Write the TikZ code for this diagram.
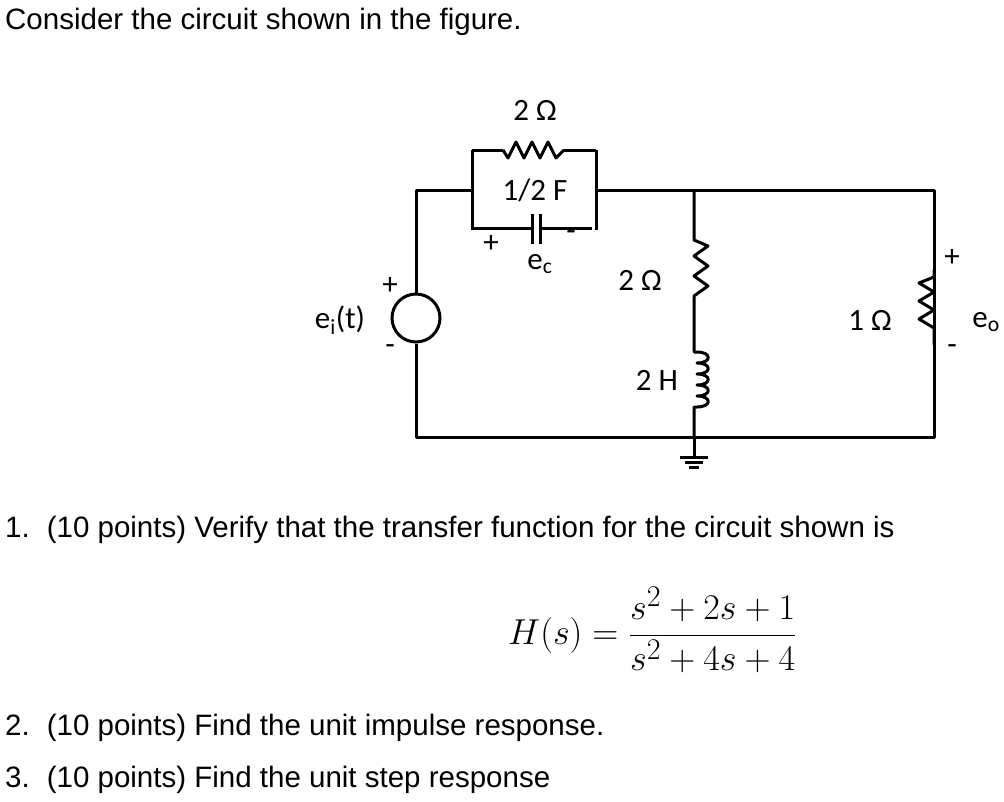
\documentclass[tikz,border=0pt]{standalone}
\usepackage{amsmath}
\usepackage{fontspec}
\setmainfont{Liberation Sans}
\newfontfamily\lblfont{Carlito}
\begin{document}
\begin{tikzpicture}[x=1pt,y=-1pt,
  wire/.style={line width=3pt,line join=round},
  lbl/.style={font=\lblfont\fontsize{31}{36}\selectfont,inner sep=0pt},
  txt/.style={font=\fontsize{29.5}{34}\selectfont,inner sep=0pt,anchor=west}]
\useasboundingbox (0,0) rectangle (1004,801);
\coordinate (tl) at (416,190);
\coordinate (bl) at (416,437);
\coordinate (pl) at (472,190);
\coordinate (pr) at (596,190);
\coordinate (mt) at (694,190);
\coordinate (mb) at (694,437);
\coordinate (rt) at (934,190);
\coordinate (rb) at (934,437);
\node[draw,circle,line width=3pt,minimum size=48pt,inner sep=0pt] (src) at (416,318) {};
\draw[wire] (src.north) -- (tl) -- (pl);
\draw[wire] (src.south) -- (bl) -- (rb) -- (rt) -- (pr);
% parallel block
\draw[wire] (472,150) -- (472,230);
\draw[wire] (596,150) -- (596,230);
\draw[wire] (472,150) -- (503,150);
\draw[wire] (564,150) -- (596,150);
\draw[wire] (503,150) -- (508,158) -- (516,142) -- (524,158) -- (532,142) -- (540,158) -- (548,142) -- (556,158) -- (564,150);
\draw[wire] (472,228) -- (532,228) (540,228) -- (592,228);
\draw[wire] (532,214) -- (532,244) (540,214) -- (540,244);
% middle branch
\draw[wire] (mt) -- (694,240) -- (708,246) -- (694,256) -- (708,266) -- (694,276) -- (708,286) -- (694,296) -- (694,352)
  -- (697,352) .. controls (712,352) and (712,363) .. (697,363)
  .. controls (712,363) and (712,374) .. (697,374)
  .. controls (712,374) and (712,385) .. (697,385)
  .. controls (712,385) and (712,396) .. (697,396)
  .. controls (712,396) and (712,407) .. (697,407) -- (694,407) -- (mb);
% ground
\draw[wire] (mb) -- (694,456);
\draw[wire] (680,457) -- (708,457);
\draw[wire] (685,462) -- (703,462);
\draw[wire] (689,467) -- (699,467);
% right resistor
\draw[wire] (934,270) -- (934,277) -- (919,283) -- (934,292) -- (919,301) -- (934,310) -- (919,319) -- (934,328) -- (934,345);
% labels
\node[lbl] at (535,110) {2 Ω};
\node[lbl] at (535,190) {1/2 F};
\node[lbl] at (491,244) {+};
\node[lbl] at (571,236) {-};
\node[lbl] at (540,264) {e\textsubscript{c}};
\node[lbl] at (640,280) {2 Ω};
\node[lbl] at (657,380) {2 H};
\node[lbl] at (870,320) {1 Ω};
\node[lbl] at (986,322) {e\textsubscript{o}};
\node[lbl] at (952,258) {+};
\node[lbl] at (952,350) {-};
\node[lbl] at (340,320) {e\textsubscript{i}(t)};
\node[lbl] at (390,286) {+};
\node[lbl] at (390,350) {-};
% text
\node[txt] at (5,22) {Consider the circuit shown in the figure.};
\node[txt] at (5,530) {1.\hspace{17pt}(10 points) Verify that the transfer function for the circuit shown is};
\node[txt] at (508,630) {\scalebox{1.45}{$H(s)=\dfrac{s^2+2s+1}{s^2+4s+4}$}};
\node[txt] at (5,728) {2.\hspace{17pt}(10 points) Find the unit impulse response.};
\node[txt] at (5,780) {3.\hspace{17pt}(10 points) Find the unit step response};
\end{tikzpicture}
\end{document}
